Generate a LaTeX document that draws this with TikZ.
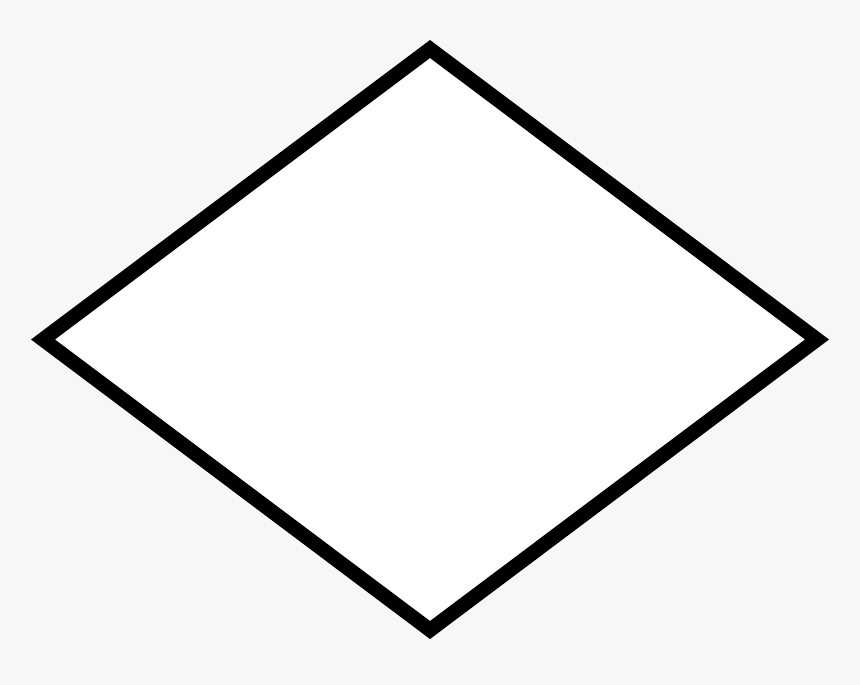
\documentclass[tikz,border=0pt]{standalone}
\definecolor{bggray}{HTML}{F7F7F7}
\tikzset{rhombus/.style={draw=black, fill=white, line width=14.4pt, line join=miter}}
\begin{document}
\begin{tikzpicture}[x=1pt, y=-1pt]
      \fill[bggray] (0,0) rectangle (860,685);
      \useasboundingbox (0,0) rectangle (860,685);
      \coordinate (top) at (430,49);
      \coordinate (left) at (43,339.5);
      \coordinate (bottom) at (430,630);
      \coordinate (right) at (817,339.5);
      \draw[rhombus] (top) -- (right) -- (bottom) -- (left) -- cycle;
    \end{tikzpicture}
\end{document}
